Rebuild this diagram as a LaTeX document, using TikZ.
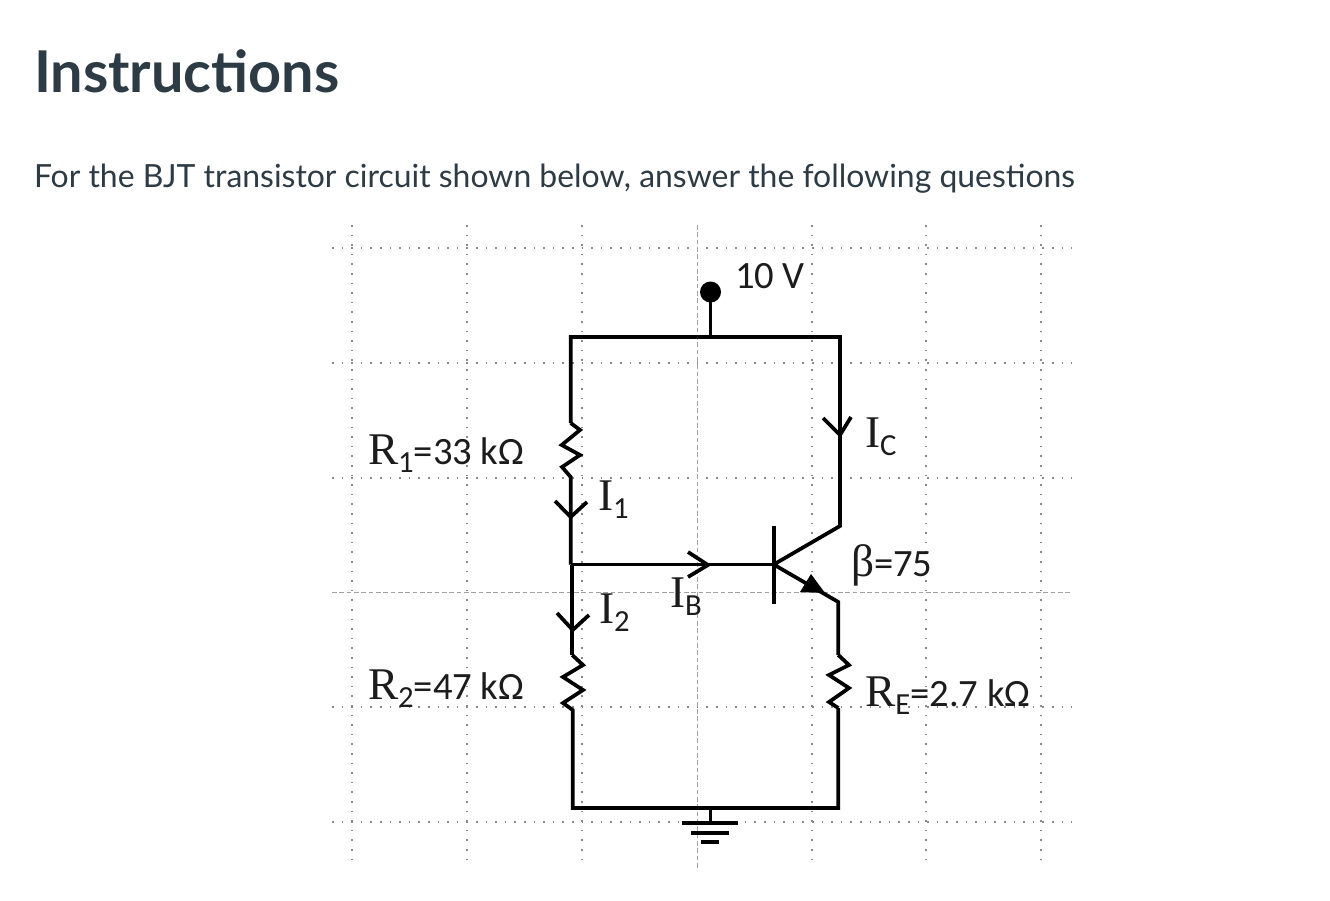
\documentclass[tikz,border=0pt]{standalone}
\usepackage{fontspec}
\setmainfont{Lato}
\newfontfamily\carl{Carlito}
\newfontfamily\serf{Liberation Serif}
\definecolor{ink}{HTML}{2D3B45}
\definecolor{gridc}{HTML}{8A8A8A}
\definecolor{lab}{HTML}{1C1C1C}
\newcommand{\sr}[1]{{\serf\fontsize{34}{36}\selectfont #1}}
\newcommand{\sbs}[1]{\raisebox{-6.5pt}{\carl\fontsize{23}{24}\selectfont #1}}
\newcommand{\rest}[1]{{\carl\fontsize{29}{32}\selectfont #1}}
\tikzset{
  x=0.75pt,y=-0.75pt,
  wire/.style={line width=2.8pt,black,line join=miter,line cap=butt},
  griddot/.style={gridc,line width=0.8pt,dash pattern=on 1.2pt off 6pt},
  griddash/.style={gridc!80,line width=0.7pt,dash pattern=on 3.5pt off 2pt},
  lbl/.style={anchor=base west,inner sep=0pt,outer sep=0pt,text=lab},
  txt/.style={anchor=base west,inner sep=0pt,outer sep=0pt,text=ink},
}
\begin{document}
\begin{tikzpicture}
\useasboundingbox (0,0) rectangle (1330,900);
\fill[white] (0,0) rectangle (1330,900);
% page text
\node[txt,font=\bfseries\fontsize{43.2}{48}\selectfont] (title) at (34,92.5) {Instructions};
\node[txt,font=\fontsize{23.93}{30}\selectfont] (intro) at (34,187.5) {For the BJT transistor circuit shown below, answer the following questions};
% grid
\foreach \gx in {352,467,582,812,926,1041} \draw[griddot] (\gx,225) -- (\gx,862);
\foreach \gy in {248,363,478,707,822} \draw[griddot] (332,\gy) -- (1072,\gy);
\draw[griddash] (697,225) -- (697,868);
\draw[griddash] (332,592) -- (1072,592);
% junctions
\coordinate (tl) at (570.7,337);
\coordinate (tv) at (710.5,337);
\coordinate (tr) at (840,337);
\coordinate (r1t) at (570.7,423);
\coordinate (r1b) at (570.7,477);
\coordinate (jb) at (570.7,564.5);
\coordinate (jc) at (572.2,564.5);
\coordinate (r2t) at (572.2,655);
\coordinate (r2b) at (572.7,710);
\coordinate (bl) at (572.7,808);
\coordinate (bg) at (710.5,808);
\coordinate (br) at (838.3,808);
\coordinate (rebot) at (838.3,708);
\coordinate (retop) at (838.3,655);
\coordinate (em) at (838.3,602);
\coordinate (col) at (840,526);
\coordinate (bas) at (773.7,564.5);
\coordinate (bart) at (773.7,526);
\coordinate (barb) at (773.7,604);
\coordinate (gnd) at (710.5,823);
% wires
\draw[wire] (r1t) -- (tl) -- (tr) -- (col) -- (bas) -- (em) -- (retop);
\draw[wire] (tv) -- (710.5,300);
\fill[black] (710.5,292) circle (10.5);
\draw[wire] (r1t) -- (580,430) -- (561.7,445) -- (580,455) -- (562,467) -- (r1b) -- (jb);
\draw[wire] (jc) -- (r2t);
\draw[wire] (r2t) -- (583,665) -- (563,677) -- (583,690) -- (563,703) -- (r2b) -- (bl) -- (br) -- (rebot);
\draw[wire] (retop) -- (849,665) -- (829,675) -- (849,688) -- (829,702) -- (rebot);
\draw[wire] (jb) -- (bas);
\draw[wire,line width=3pt] (bart) -- (barb);
% arrows
\draw[wire] (555,501) -- (570.7,517) -- (587,502);
\draw[wire] (557,613) -- (572.7,630) -- (589,615);
\draw[wire] (823,418) -- (840,435) -- (851,417);
\draw[wire] (688,552) -- (708,565) -- (688,577);
\fill[black] (800,592) -- (811,574) -- (825,593) -- cycle;
% ground
\draw[wire] (bg) -- (gnd);
\draw[wire] (682,823) -- (738,823);
\draw[wire] (691,833) -- (729,833);
\draw[wire] (701,842) -- (719,842);
% labels
\node[lbl] (vcc) at (735,288.5) {\rest{10 V}};
\node[lbl] (r1) at (368,464) {\sr{R}\sbs{1}\rest{=33 kΩ}};
\node[lbl] (r2) at (368,699) {\sr{R}\sbs{2}\rest{=47 kΩ}};
\node[lbl] (re) at (865,706) {\sr{R}\sbs{E}\rest{=2.7 kΩ}};
\node[lbl] (i1) at (598,510) {\sr{I}\sbs{1}};
\node[lbl] (i2) at (599,623) {\sr{I}\sbs{2}};
\node[lbl] (ib) at (670,607) {\sr{I}\sbs{B}};
\node[lbl] (ic) at (865,447) {\sr{I}\sbs{C}};
\node[lbl] (beta) at (851,576) {\sr{β}\rest{=75}};
\end{tikzpicture}
\end{document}
